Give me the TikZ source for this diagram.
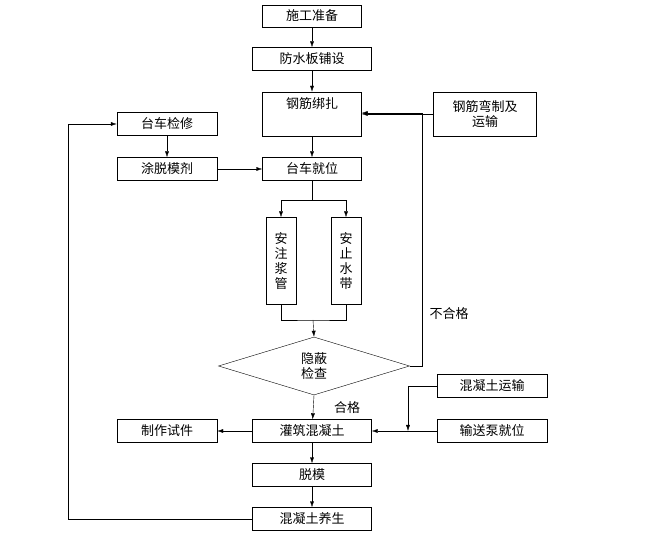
\documentclass[tikz,border=0pt]{standalone}
\usepackage{fontspec}
\setmainfont{Noto Sans CJK SC}
\usetikzlibrary{arrows.meta,shapes.geometric}
\begin{document}
\begin{tikzpicture}[x=1pt,y=-1pt,
 box/.style={draw,thin,font=\fontsize{13}{15}\selectfont,inner sep=0pt},
 ar/.style={-{Latex[length=6pt,width=4pt]},thin},
 ln/.style={thin}]
\useasboundingbox (0,0) rectangle (648,534);
\node[box,minimum width=99pt,minimum height=22pt] (sg) at (312,16) {施工准备};
\node[box,minimum width=119pt,minimum height=23pt] (fs) at (312,59) {防水板铺设};
\node[box,minimum width=99pt,minimum height=44pt,text depth=22pt] (gj) at (312,114) {钢筋绑扎};
\node[box,minimum width=103pt,minimum height=44pt,align=center] (gw) at (485,114) {钢筋弯制及\\运输};
\node[box,minimum width=100pt,minimum height=23pt] (tj) at (167,124) {台车检修};
\node[box,minimum width=100pt,minimum height=23pt] (tt) at (167,169) {涂脱模剂};
\node[box,minimum width=99pt,minimum height=23pt] (tc) at (312,169) {台车就位};
\node[box,minimum width=30pt,minimum height=87pt,align=center] (az) at (281,261) {安\\注\\浆\\管};
\node[box,minimum width=30pt,minimum height=87pt,align=center] (as) at (346,261) {安\\止\\水\\带};
\node[draw,thin,diamond,minimum width=191pt,minimum height=58pt,inner sep=0pt,aspect=3.3,align=center,font=\fontsize{13}{15}\selectfont] (yb) at (314,366) {隐蔽\\检查};
\node[box,minimum width=110pt,minimum height=23pt] (hy) at (492,386) {混凝土运输};
\node[box,minimum width=119pt,minimum height=23pt] (gz) at (312,431) {灌筑混凝土};
\node[box,minimum width=100pt,minimum height=23pt] (zz) at (167,431) {制作试件};
\node[box,minimum width=110pt,minimum height=23pt] (sb) at (492,431) {输送泵就位};
\node[box,minimum width=119pt,minimum height=23pt] (tm) at (312,475) {脱模};
\node[box,minimum width=119pt,minimum height=23pt] (ys) at (312,519) {混凝土养生};
\draw[ar] (sg) -- (fs);
\draw[ar] (fs) -- (gj);
\draw[ar] (gw) -- (gj);
\draw[ar] (gj) -- (tc);
\draw[ar] (tj) -- (tt);
\draw[ar] (tt) -- (tc);
\coordinate (s1) at (312,200);
\draw[ln] (tc) -- (s1);
\draw[ar] (s1) -| (az.north);
\draw[ar] (s1) -| (as.north);
\coordinate (m1) at (313,320);
\draw[ln] (az.south) |- (m1) -| (as.south);
\draw[ar] (m1) -- (yb.north);
\draw[ar] (yb.east) -- (422,366) |- (gj.east |- 0,113);
\node[font=\fontsize{13}{15}\selectfont] (bh) at (449,314) {不合格};
\draw[ar] (yb.south) -- (gz);
\node[font=\fontsize{13}{15}\selectfont] (hg) at (347,408) {合格};
\draw[ar] (hy.west) -| (408,431);
\draw[ar] (sb) -- (gz);
\draw[ar] (gz) -- (zz);
\draw[ar] (gz) -- (tm);
\draw[ar] (tm) -- (ys);
\draw[ar] (ys.west) -- (68,519) |- (tj.west);
\end{tikzpicture}
\end{document}
